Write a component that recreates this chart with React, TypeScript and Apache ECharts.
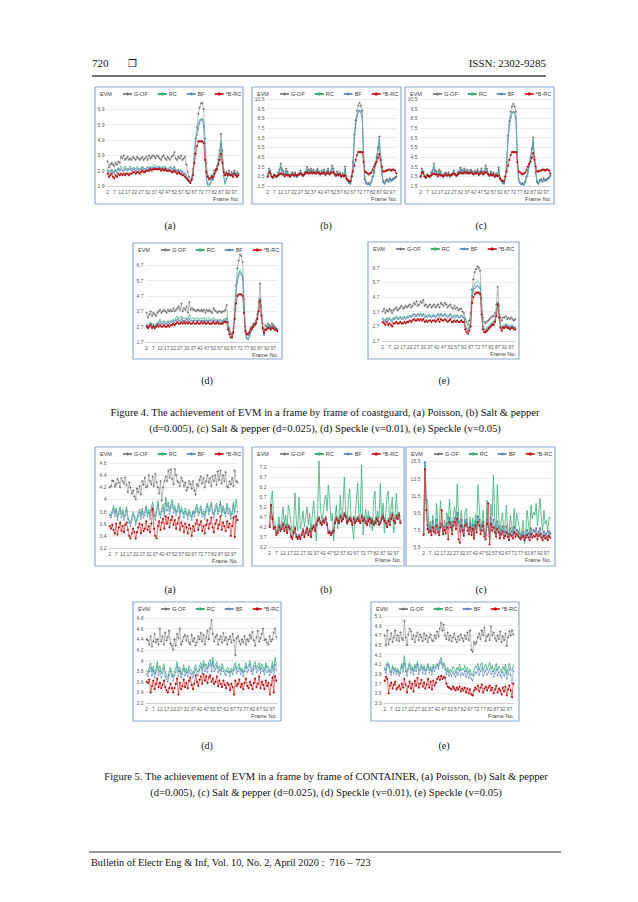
import React, { useEffect, useRef } from "react";
import * as echarts from "echarts";

// ---------- categories / names ----------
const FRAMES = Array.from({ length: 99 }, (_, i) => String(i + 2));
const SERIES_NAMES = ["G-OF", "RC", "BF", "*B-RC"];

// ---------- tick labels ----------
const t4a = [1.9, 2.9, 3.9, 4.9, 5.9, 6.9];
const t4b = [1.5, 2.5, 3.5, 4.5, 5.5, 6.5, 7.5, 8.5, 9.5, 10.5];
const t4d = [1.7, 2.7, 3.7, 4.7, 5.7, 6.7];
const t5a = [3.2, 3.4, 3.6, 3.8, 4, 4.2, 4.4, 4.6];
const t5b = [3.2, 3.7, 4.2, 4.7, 5.2, 5.7, 6.2, 6.7, 7.2];
const t5c = [5.5, 7.5, 9.5, 11.5, 13.5, 15.5];
const t5d = [3.2, 3.4, 3.6, 3.8, 4, 4.2, 4.4, 4.6, 4.8];
const t5e = [3.3, 3.5, 3.7, 3.9, 4.1, 4.3, 4.5, 4.7, 4.9, 5.1];

// ---------- Figure 4 (coastguard) ----------
const f4a_gof = [3.5,3.1,3.3,3.4,3.3,3.2,3.4,3.3,3.5,3.4, 3.8,3.7,3.9,3.6,3.7,3.8,3.6,3.7,3.6,3.8, 3.7,3.6,3.8,3.7,3.6,3.7,3.8,3.6,3.7,3.8, 3.6,3.9,3.7,3.8,3.9,3.8,3.7,3.9,3.8,3.7, 3.6,3.8,3.9,3.7,3.6,3.8,3.7,3.6,3.8,3.9, 4.1,3.7,3.6,3.8,3.7,3.9,3.6,3.7,3.8,3.3, 2.8,2.5,2.2,2.4,3.0,4.0,5.0,5.7,6.6,7.0, 7.3,7.3,6.9,5.0,3.4,2.6,2.3,2.4,2.6,2.4, 2.9,3.0,3.2,3.6,4.2,5.3,4.2,3.0,2.6,2.8, 2.7,2.9,2.6,2.8,2.7,2.9,2.6,2.8,2.7];
const f4a_rc = [3.0,2.8,2.9,3.0,2.9,2.8,3.0,2.9,3.1,3.0, 3.2,3.1,3.0,3.2,3.1,3.0,3.1,3.2,3.0,3.1, 3.1,3.0,3.2,3.1,3.0,3.1,3.2,3.1,3.0,3.1, 3.2,3.1,3.2,3.1,3.2,3.3,3.2,3.1,3.2,3.2, 3.1,3.2,3.1,3.2,3.1,3.0,3.1,3.2,3.1,3.0, 3.2,3.0,2.9,3.0,2.9,2.9,2.8,2.8,2.7,2.6, 2.4,2.2,2.1,2.3,2.8,3.6,5.0,5.4,5.9,6.2, 6.3,6.3,6.0,4.2,2.4,1.9,1.85,2.0,2.2,2.3, 2.6,2.8,3.0,3.5,4.0,4.8,3.6,2.5,2.0,2.3, 2.5,2.7,2.6,2.7,2.6,2.8,2.7,2.6,2.7];
const f4a_bf = [2.9,2.7,2.8,2.9,2.8,2.7,2.9,2.8,3.0,2.9, 3.0,2.9,2.9,3.0,3.0,2.9,3.0,3.0,2.9,3.0, 3.0,2.9,3.0,3.0,2.9,3.0,3.1,3.0,2.9,3.0, 3.1,3.0,3.1,3.0,3.1,3.1,3.1,3.0,3.1,3.1, 3.0,3.1,3.0,3.1,3.0,2.9,3.0,3.1,3.0,2.9, 3.1,2.9,2.9,2.9,2.8,2.9,2.8,2.7,2.7,2.6, 2.4,2.2,2.1,2.3,2.8,3.7,4.8,5.2,5.6,6.0, 6.2,6.2,5.8,4.1,2.5,2.1,2.0,2.1,2.3,2.3, 2.6,2.8,3.0,3.4,3.9,4.6,3.5,2.6,2.2,2.4, 2.6,2.7,2.6,2.7,2.6,2.8,2.7,2.6,2.7];
const f4a_brc = [2.7,2.5,2.6,2.7,2.5,2.4,2.6,2.5,2.7,2.6, 2.7,2.6,2.7,2.6,2.7,2.7,2.6,2.7,2.7,2.8, 2.8,2.7,2.8,2.8,2.7,2.8,2.9,2.8,2.8,2.9, 2.9,2.9,3.0,2.9,3.0,3.0,3.0,3.0,3.0,3.0, 2.9,3.0,2.9,3.0,2.9,2.9,2.9,2.9,2.8,2.8, 2.9,2.8,2.7,2.8,2.7,2.7,2.6,2.6,2.5,2.4, 2.3,2.2,2.1,2.3,2.6,3.4,4.0,4.5,4.8,4.8, 4.8,4.8,4.7,3.6,2.8,2.5,2.4,2.4,2.5,2.5, 2.7,2.9,3.0,3.3,3.6,4.0,3.4,2.8,2.6,2.7, 2.6,2.7,2.6,2.6,2.5,2.7,2.6,2.5,2.6];

const f4b_gof = [2.5,3.3,3.1,2.5,2.4,2.7,2.6,2.5,2.9,3.2, 3.8,3.2,3.0,2.6,3.3,3.0,2.7,2.5,2.8,2.9, 2.6,2.9,2.5,2.7,2.8,3.1,2.7,2.6,2.9,3.0, 3.5,3.2,3.1,3.3,3.0,3.2,2.9,3.1,3.3,3.0, 2.8,3.1,2.9,3.2,2.7,3.0,3.3,2.8,3.0,3.6, 3.3,2.8,2.6,3.0,2.7,2.9,2.5,2.8,2.6,3.5, 2.3,2.1,1.9,1.8,2.5,4.0,6.8,8.3,9.3,9.8, 10.1,9.8,9.3,5.0,2.3,1.9,1.7,1.8,1.7,2.0, 2.5,3.0,3.8,4.5,5.5,6.6,4.5,3.0,2.0,1.8, 2.1,2.2,2.0,2.3,2.1,2.2,2.3,2.4,2.5];
const f4b_rc = [2.4,3.1,3.0,2.4,2.3,2.6,2.5,2.4,2.8,3.0, 3.6,3.1,2.9,2.5,3.1,2.9,2.6,2.4,2.7,2.8, 2.5,2.8,2.4,2.6,2.7,3.0,2.6,2.5,2.8,2.9, 3.3,3.1,3.0,3.2,2.9,3.1,2.8,3.0,3.2,2.9, 2.7,3.0,2.8,3.1,2.6,2.9,3.2,2.7,2.9,3.4, 3.2,2.7,2.5,2.9,2.6,2.8,2.4,2.7,2.5,3.3, 2.2,2.0,1.8,1.7,2.4,3.7,6.3,7.8,8.6,9.1, 9.2,9.1,8.6,4.6,2.1,1.8,1.7,1.7,1.6,1.9, 2.4,2.8,3.6,4.3,5.2,6.2,4.2,2.8,1.9,1.7, 2.0,2.1,1.9,2.2,2.0,2.1,2.2,2.3,2.4];
const f4b_bf = [2.4,3.0,2.9,2.4,2.3,2.6,2.5,2.4,2.7,2.9, 3.4,3.0,2.8,2.5,3.0,2.8,2.6,2.4,2.7,2.8, 2.5,2.7,2.4,2.6,2.7,2.9,2.6,2.5,2.7,2.8, 3.2,3.0,2.9,3.1,2.9,3.0,2.8,2.9,3.1,2.9, 2.7,2.9,2.8,3.0,2.6,2.8,3.1,2.7,2.8,3.3, 3.1,2.7,2.5,2.8,2.6,2.7,2.4,2.6,2.5,3.2, 2.2,2.0,1.8,1.7,2.4,3.8,6.4,7.9,8.7,9.2, 9.3,9.2,8.7,4.7,2.1,1.8,1.7,1.7,1.6,1.9, 2.4,2.8,3.6,4.3,5.3,6.3,4.3,2.8,1.9,1.7, 2.0,2.1,1.9,2.2,2.0,2.1,2.2,2.3,2.4];
const f4b_brc = [2.5,2.9,2.8,2.5,2.4,2.6,2.5,2.5,2.6,2.7, 2.8,2.7,2.7,2.5,2.7,2.6,2.6,2.5,2.6,2.7, 2.6,2.7,2.6,2.6,2.7,2.8,2.7,2.6,2.7,2.8, 2.9,2.8,2.8,2.9,2.8,2.9,2.8,2.8,2.9,2.8, 2.7,2.8,2.8,2.9,2.7,2.8,2.9,2.7,2.8,2.9, 2.9,2.7,2.6,2.7,2.6,2.7,2.5,2.6,2.5,2.6, 2.3,2.1,2.0,2.0,2.5,3.0,3.6,4.2,4.7,5.0, 5.0,5.0,5.0,4.0,3.0,2.9,2.8,2.7,2.8,2.9, 3.2,3.5,3.8,4.0,4.4,4.8,4.2,3.5,3.0,3.0, 3.1,3.1,3.2,3.2,3.1,3.2,3.2,3.1,2.8];

const f4c_gof = [2.5,3.3,3.0,2.5,2.4,2.7,2.6,2.5,2.9,3.1, 3.8,3.1,3.0,2.6,3.2,3.0,2.7,2.5,2.8,2.9, 2.6,2.9,2.5,2.7,2.8,3.1,2.7,2.6,2.9,3.0, 3.4,3.2,3.1,3.3,3.0,3.2,2.9,3.1,3.2,3.0, 2.8,3.1,2.9,3.2,2.7,3.0,3.3,2.8,3.0,3.6, 3.3,2.8,2.6,3.0,2.7,2.9,2.5,2.8,2.6,3.4, 2.3,2.1,1.9,1.8,2.5,4.0,6.7,8.2,9.2,9.7, 10.0,9.7,9.2,5.0,2.3,1.9,1.7,1.8,1.7,2.0, 2.5,3.0,3.8,4.5,5.4,6.5,4.5,3.0,2.0,1.8, 2.1,2.2,2.0,2.3,2.1,2.2,2.3,2.4,2.6];
const f4c_rc = [2.4,3.1,2.9,2.4,2.3,2.6,2.5,2.4,2.8,3.0, 3.5,3.0,2.9,2.5,3.1,2.9,2.6,2.4,2.7,2.8, 2.5,2.8,2.4,2.6,2.7,3.0,2.6,2.5,2.8,2.9, 3.3,3.1,3.0,3.2,2.9,3.1,2.8,3.0,3.1,2.9, 2.7,3.0,2.8,3.1,2.6,2.9,3.2,2.7,2.9,3.4, 3.2,2.7,2.5,2.9,2.6,2.8,2.4,2.7,2.5,3.3, 2.2,2.0,1.8,1.7,2.4,3.7,6.2,7.7,8.5,9.0, 9.1,9.0,8.5,4.6,2.1,1.8,1.7,1.7,1.6,1.9, 2.4,2.8,3.6,4.3,5.2,6.1,4.2,2.8,1.9,1.7, 2.0,2.1,1.9,2.2,2.0,2.1,2.2,2.3,2.5];
const f4c_bf = [2.4,3.0,2.9,2.4,2.3,2.6,2.5,2.4,2.7,2.9, 3.4,3.0,2.8,2.5,3.0,2.8,2.6,2.4,2.7,2.8, 2.5,2.7,2.4,2.6,2.7,2.9,2.6,2.5,2.7,2.8, 3.2,3.0,2.9,3.1,2.9,3.0,2.8,2.9,3.1,2.9, 2.7,2.9,2.8,3.0,2.6,2.8,3.1,2.7,2.8,3.3, 3.1,2.7,2.5,2.8,2.6,2.7,2.4,2.6,2.5,3.2, 2.2,2.0,1.8,1.7,2.4,3.8,6.3,7.8,8.6,9.1, 9.2,9.1,8.6,4.7,2.1,1.8,1.7,1.7,1.6,1.9, 2.4,2.8,3.6,4.3,5.3,6.2,4.3,2.8,1.9,1.7, 2.0,2.1,1.9,2.2,2.0,2.1,2.2,2.3,2.5];
const f4c_brc = [2.5,2.9,2.8,2.5,2.4,2.6,2.5,2.5,2.6,2.7, 2.8,2.7,2.7,2.5,2.7,2.6,2.6,2.5,2.6,2.7, 2.6,2.7,2.6,2.6,2.7,2.8,2.7,2.6,2.7,2.8, 2.9,2.8,2.8,2.9,2.8,2.9,2.8,2.8,2.9,2.8, 2.7,2.8,2.8,2.9,2.7,2.8,2.9,2.7,2.8,2.9, 2.9,2.7,2.6,2.7,2.6,2.7,2.5,2.6,2.5,2.6, 2.3,2.1,2.0,2.0,2.5,3.0,3.6,4.2,4.7,5.0, 5.0,5.0,5.0,4.0,3.0,2.9,2.8,2.7,2.8,2.9, 3.2,3.5,3.8,4.0,4.4,4.9,4.2,3.5,3.0,3.0, 3.1,3.1,3.2,3.2,3.1,3.2,3.2,3.1,2.8];

const f4d_gof = [3.6,3.3,3.5,3.7,3.4,3.6,3.5,3.4,3.6,3.7, 3.8,3.6,3.7,3.8,3.7,3.6,3.8,3.7,3.8,3.7, 3.9,3.7,3.8,3.9,4.0,3.8,4.2,3.7,3.9,3.8, 4.0,3.6,4.3,3.8,3.9,3.8,3.8,3.7,3.8,3.8, 3.7,3.8,3.7,3.8,3.6,3.8,3.7,3.8,3.7,3.6, 3.9,3.8,3.7,3.6,3.7,3.7,3.6,3.7,3.7,3.8, 4.1,3.0,2.6,2.3,2.2,2.6,3.8,5.4,6.5,7.0, 7.4,7.3,6.9,4.5,2.7,2.3,2.2,2.4,2.6,2.7, 2.9,2.9,3.1,3.5,4.3,5.5,4.0,2.9,2.4,2.8, 2.7,2.9,2.8,2.7,2.9,2.8,2.7,2.6,2.5];
const f4d_rc = [2.9,2.8,2.9,3.0,2.8,2.9,2.8,2.9,3.0,3.0, 3.2,3.0,3.0,3.1,3.0,3.0,3.1,3.0,3.1,3.1, 3.2,3.1,3.3,3.4,3.2,3.3,3.4,3.2,3.3,3.2, 3.3,3.2,3.5,3.3,3.2,3.3,3.2,3.2,3.3,3.2, 3.2,3.3,3.2,3.3,3.1,3.2,3.3,3.2,3.2,3.1, 3.3,3.2,3.1,3.2,3.1,3.2,3.1,3.1,3.2,3.2, 3.3,2.7,2.5,2.2,2.1,2.4,3.5,5.0,5.8,6.2, 6.4,6.3,6.0,4.0,2.3,1.9,1.8,2.0,2.3,2.5, 2.8,2.8,3.0,3.3,3.9,4.6,3.6,2.6,2.1,2.5, 2.6,2.8,2.7,2.6,2.8,2.7,2.6,2.6,2.5];
const f4d_bf = [2.8,2.7,2.8,2.9,2.7,2.8,2.7,2.8,2.9,2.9, 3.0,2.9,2.9,3.0,2.9,2.9,3.0,2.9,3.0,3.0, 3.1,3.0,3.1,3.2,3.1,3.1,3.2,3.1,3.1,3.1, 3.2,3.1,3.2,3.1,3.1,3.1,3.1,3.1,3.1,3.1, 3.1,3.1,3.1,3.1,3.0,3.1,3.1,3.1,3.1,3.0, 3.1,3.1,3.0,3.1,3.0,3.1,3.0,3.0,3.1,3.1, 3.2,2.7,2.4,2.2,2.1,2.4,3.4,4.8,5.6,6.0, 6.2,6.1,5.8,3.9,2.4,2.0,1.9,2.1,2.4,2.5, 2.8,2.8,3.0,3.3,3.8,4.5,3.5,2.6,2.2,2.5, 2.6,2.7,2.6,2.6,2.7,2.7,2.6,2.6,2.5];
const f4d_brc = [2.7,2.6,2.7,2.8,2.6,2.7,2.6,2.7,2.8,2.7, 2.8,2.7,2.7,2.8,2.7,2.7,2.8,2.7,2.8,2.8, 2.9,2.8,2.9,3.0,2.9,2.9,3.0,2.9,3.0,2.9, 3.0,2.9,3.0,2.9,2.9,3.0,2.9,2.9,3.0,2.9, 2.9,3.0,2.9,3.0,2.9,2.9,3.0,2.9,2.9,2.9, 3.0,2.9,2.9,3.0,2.9,2.9,2.9,2.9,3.0,3.0, 3.0,2.5,2.2,2.0,2.0,2.3,3.2,4.2,4.7,4.8, 4.8,4.8,4.7,3.6,2.4,2.2,2.2,2.3,2.5,2.6, 2.7,2.8,2.9,3.2,3.7,4.4,3.4,2.6,2.3,2.5, 2.5,2.6,2.6,2.5,2.6,2.6,2.5,2.5,2.4];

const f4e_gof = [3.7,3.9,3.6,3.8,3.7,3.9,3.8,3.6,3.8,3.9, 4.0,3.8,3.9,4.0,4.1,3.9,4.0,4.1,4.0,4.1, 4.2,4.0,4.1,4.3,4.2,4.4,4.1,4.2,4.4,4.3, 4.5,4.1,4.2,4.0,4.1,4.2,4.0,4.1,4.2,4.0, 4.1,4.2,4.0,4.3,4.2,4.1,4.3,4.2,4.0,4.1, 4.2,4.0,3.9,4.1,3.9,4.0,3.8,3.9,3.9,3.7, 3.6,3.2,3.0,2.8,3.1,3.6,5.2,5.9,6.4,6.6, 6.8,6.7,6.5,4.6,3.3,3.0,2.9,3.0,3.1,3.2, 3.3,3.4,3.4,3.6,4.2,5.4,4.1,3.3,3.1,3.3, 3.3,3.4,3.2,3.3,3.2,3.3,3.2,3.1,3.2];
const f4e_rc = [3.3,3.2,3.1,3.3,3.2,3.3,3.2,3.1,3.3,3.3, 3.4,3.3,3.3,3.4,3.3,3.3,3.4,3.3,3.4,3.4, 3.5,3.4,3.5,3.6,3.5,3.5,3.6,3.5,3.6,3.5, 3.6,3.4,3.5,3.4,3.5,3.5,3.4,3.5,3.5,3.4, 3.5,3.6,3.4,3.6,3.5,3.5,3.6,3.5,3.4,3.5, 3.6,3.4,3.4,3.5,3.4,3.5,3.4,3.4,3.5,3.4, 3.4,2.8,2.6,2.5,2.7,3.0,4.9,5.3,5.6,5.7, 5.8,5.7,5.6,4.0,2.8,2.6,2.5,2.6,2.7,2.8, 2.9,3.0,3.0,3.2,3.7,4.4,3.6,2.8,2.6,2.8, 2.8,2.9,2.8,2.8,2.7,2.8,2.8,2.7,2.7];
const f4e_bf = [3.2,3.1,3.0,3.2,3.1,3.2,3.1,3.0,3.2,3.2, 3.3,3.2,3.2,3.3,3.2,3.2,3.3,3.2,3.3,3.3, 3.4,3.3,3.4,3.5,3.4,3.4,3.5,3.4,3.5,3.4, 3.5,3.3,3.4,3.3,3.4,3.4,3.3,3.4,3.4,3.3, 3.4,3.5,3.3,3.5,3.4,3.4,3.5,3.4,3.3,3.4, 3.5,3.3,3.3,3.4,3.3,3.4,3.3,3.3,3.4,3.3, 3.3,2.7,2.5,2.4,2.6,2.9,4.8,5.1,5.3,5.4, 5.5,5.4,5.3,3.8,2.7,2.5,2.4,2.5,2.6,2.7, 2.8,2.9,2.9,3.1,3.6,4.3,3.5,2.7,2.5,2.7, 2.7,2.8,2.7,2.7,2.6,2.7,2.7,2.6,2.6];
const f4e_brc = [3.0,2.9,2.8,3.0,2.8,2.9,2.8,2.7,2.9,2.9, 3.0,2.9,2.9,3.0,2.9,2.9,3.0,2.9,3.0,3.0, 3.1,3.0,3.1,3.2,3.1,3.1,3.2,3.1,3.2,3.1, 3.2,3.0,3.1,3.0,3.1,3.1,3.0,3.1,3.1,3.0, 3.1,3.2,3.0,3.2,3.1,3.1,3.2,3.1,3.0,3.1, 3.2,3.0,3.0,3.1,3.0,3.1,3.0,3.0,3.1,3.0, 3.0,2.5,2.3,2.2,2.4,2.7,4.3,4.7,4.9,5.0, 5.0,5.0,4.9,3.5,2.5,2.3,2.3,2.4,2.5,2.6, 2.7,2.8,2.8,3.0,3.4,4.2,3.3,2.6,2.4,2.6, 2.6,2.7,2.6,2.6,2.5,2.6,2.6,2.5,2.5];

// ---------- Figure 5 (CONTAINER) ----------
const f5a_gof = [4.20,4.22,4.31,4.30,4.21,4.25,4.34,4.28,4.20,4.35, 4.30,4.26,4.36,4.24,4.12,4.28,4.20,4.10,4.15,4.05, 4.00,4.18,4.12,4.22,4.08,4.30,4.24,4.36,4.20,4.22, 4.40,4.30,4.25,4.38,4.22,4.42,4.28,4.20,4.10,4.30, 3.98,4.20,4.30,4.38,4.30,4.48,4.36,4.50,4.34,4.25, 4.50,4.40,4.30,4.28,4.22,4.36,4.30,4.22,4.28,4.15, 4.20,4.30,4.25,4.18,4.30,4.15,4.08,4.25,4.22,4.32, 4.38,4.26,4.35,4.20,4.30,4.40,4.28,4.35,4.22,4.38, 4.30,4.40,4.24,4.46,4.32,4.48,4.26,4.40,4.30,4.45, 4.22,4.20,4.30,4.25,4.35,4.22,4.48,4.30,4.28];
const f5a_rc = [3.78,3.72,3.82,3.90,3.76,3.86,3.70,3.80,3.88,3.74, 3.84,3.70,3.78,3.88,3.72,3.66,3.60,3.72,3.80,3.74, 3.62,3.70,3.78,3.84,3.72,3.86,3.74,3.80,3.90,3.76, 3.84,3.72,3.88,3.96,3.78,3.70,3.82,3.98,3.80,3.74, 3.86,3.92,3.76,4.04,3.88,3.96,3.80,3.92,4.00,3.84, 3.90,3.78,3.86,3.94,3.76,3.88,3.82,3.74,3.86,3.80, 3.72,3.84,3.78,3.70,3.82,3.76,3.86,3.92,3.78,3.84, 3.90,3.76,3.82,3.72,3.86,3.94,3.80,3.88,3.96,3.82, 3.74,3.88,3.94,3.80,3.86,3.98,3.78,3.90,3.84,3.76, 3.94,3.82,3.86,3.72,3.80,3.96,3.78,4.00,3.86];
const f5a_bf = [3.74,3.70,3.78,3.84,3.72,3.80,3.66,3.76,3.82,3.70, 3.78,3.66,3.74,3.82,3.68,3.62,3.56,3.66,3.74,3.70, 3.58,3.66,3.72,3.78,3.68,3.80,3.70,3.74,3.84,3.72, 3.78,3.68,3.82,3.88,3.74,3.66,3.78,3.90,3.76,3.70, 3.80,3.86,3.72,3.94,3.82,3.88,3.76,3.86,3.92,3.78, 3.84,3.74,3.80,3.88,3.72,3.82,3.78,3.70,3.80,3.76, 3.68,3.78,3.74,3.66,3.78,3.72,3.80,3.86,3.74,3.78, 3.84,3.72,3.76,3.68,3.80,3.88,3.76,3.82,3.90,3.78, 3.70,3.82,3.88,3.76,3.80,3.92,3.74,3.84,3.78,3.72, 3.86,3.76,3.80,3.68,3.76,3.90,3.72,3.62,3.80];
const f5a_brc = [3.56,3.52,3.58,3.50,3.44,3.60,3.42,3.54,3.62,3.48, 3.56,3.46,3.58,3.62,3.50,3.40,3.36,3.44,3.52,3.46, 3.36,3.46,3.54,3.60,3.44,3.58,3.48,3.52,3.64,3.50, 3.56,3.46,3.60,3.84,3.52,3.40,3.36,3.56,3.64,3.50, 3.62,3.68,3.52,3.72,3.60,3.70,3.54,3.66,3.72,3.58, 3.66,3.52,3.60,3.70,3.50,3.62,3.56,3.46,3.60,3.54, 3.44,3.58,3.52,3.40,3.56,3.48,3.60,3.66,3.50,3.58, 3.64,3.48,3.56,3.44,3.58,3.66,3.52,3.60,3.70,3.54, 3.46,3.60,3.66,3.52,3.58,3.72,3.50,3.62,3.56,3.48, 3.64,3.54,3.60,3.40,3.56,3.70,3.38,3.72,3.66];

const f5b_gof = [4.3,5.2,4.7,4.2,4.2,3.9,4.0,4.3,4.1,4.2, 4.4,4.1,4.3,4.0,4.3,4.2,3.8,3.7,4.0,4.2, 3.8,3.7,3.8,3.7,3.9,4.1,3.8,4.0,4.2,3.9, 4.1,3.8,4.2,4.3,4.1,4.4,4.6,4.7,4.5,4.4, 4.6,4.5,4.7,4.4,4.0,4.0,3.9,4.0,4.1,4.5, 4.7,4.6,4.5,4.8,4.6,4.7,4.9,4.8,4.5,4.6, 4.7,4.6,4.4,4.7,4.5,4.6,4.7,4.6,4.5,4.8, 4.6,4.7,4.5,4.4,4.6,4.7,4.5,4.6,4.4,4.5, 4.7,4.6,4.4,4.5,4.7,4.8,4.6,4.5,4.3,4.6, 4.4,4.7,4.9,4.6,4.5,4.8,4.7,4.9,4.5];
const f5b_rc = [4.6,5.5,6.0,4.5,4.4,3.9,4.2,4.7,4.1,4.5, 5.2,4.3,4.8,4.0,5.3,5.0,4.4,3.9,4.3,5.9, 4.5,4.0,5.7,4.1,4.4,5.0,4.2,4.7,5.2,4.3, 4.9,3.9,4.8,5.5,4.6,3.5,5.0,7.5,5.2,4.6, 4.8,5.5,5.8,5.0,6.3,5.6,4.5,4.9,3.5,4.6, 5.3,4.1,4.7,5.8,4.4,5.2,6.7,4.9,4.3,5.6, 6.1,4.8,4.2,3.6,4.7,5.5,6.4,4.6,4.9,7.3, 3.8,4.5,5.1,4.4,5.0,4.2,4.7,4.0,5.6,6.0, 4.3,5.0,4.6,6.4,4.5,5.4,3.9,4.8,5.8,6.0, 4.4,5.1,5.7,3.9,4.8,5.9,4.6,4.9,4.7];
const f5b_bf = [4.2,5.3,4.6,4.2,4.2,3.9,3.9,4.2,4.0,4.2, 4.3,4.0,4.2,3.9,4.2,4.1,3.8,3.7,3.9,4.1, 3.7,3.6,3.8,3.7,3.8,4.0,3.8,3.9,4.1,3.8, 4.0,3.8,4.1,4.2,4.0,4.3,4.5,4.6,4.4,4.3, 4.5,4.4,4.6,4.3,3.9,4.0,3.8,3.9,4.0,4.4, 4.6,4.5,4.4,4.7,4.5,4.6,4.8,4.7,4.4,4.5, 4.6,4.5,4.3,4.6,4.4,4.5,4.6,4.5,4.4,4.7, 4.5,4.6,4.4,4.3,4.5,4.6,4.4,4.5,4.3,4.4, 4.6,4.5,4.3,4.4,4.6,4.7,4.5,4.4,4.2,4.5, 4.3,4.6,4.8,4.5,4.4,4.7,4.6,4.8,4.4];
const f5b_brc = [4.2,5.3,4.6,4.1,4.2,3.8,3.9,4.2,4.0,4.1, 4.3,4.0,4.2,3.9,4.2,4.1,3.7,3.6,3.9,4.1, 3.7,3.6,3.7,3.6,3.8,4.0,3.7,3.9,4.1,3.8, 4.0,3.7,4.1,4.2,4.0,4.3,4.5,4.6,4.4,4.3, 4.5,4.4,4.6,4.3,3.9,3.9,3.8,3.9,4.0,4.4, 4.6,4.5,4.4,4.7,4.5,4.6,4.8,4.7,4.4,4.5, 4.6,4.5,4.3,4.6,4.4,4.5,4.6,4.5,4.4,4.7, 4.5,4.6,4.4,4.3,4.5,4.6,4.4,4.5,4.3,4.4, 4.6,4.5,4.3,4.4,4.6,4.7,4.5,4.4,4.2,4.5, 4.3,4.6,4.8,4.5,4.4,4.7,4.6,4.8,4.4];

const f5c_gof = [7.1,15.4,11.0,8.1,7.6,7.9,7.3,8.5,7.7,7.5, 8.7,7.7,7.3,8.3,8.1,7.3,7.9,7.5,8.3,7.7, 8.9,8.3,7.5,8.5,8.9,8.1,9.5,8.5,7.3,8.7, 7.9,7.1,8.5,8.7,7.9,7.5,8.3,7.3,8.1,6.9, 8.5,7.7,9.1,8.7,7.5,7.9,8.5,7.1,6.9,8.7, 7.9,6.7,8.9,7.9,8.7,7.7,7.1,8.5,7.9,6.9, 7.5,7.9,6.9,7.3,7.9,7.1,6.7,7.7,7.3,7.0, 7.9,7.1,7.5,7.3,7.1,6.7,7.0,7.3,6.7,7.0, 7.5,7.1,6.7,7.7,7.1,7.5,7.3,7.7,6.9,7.3, 7.7,7.1,6.7,7.3,6.9,7.1,6.7,7.3,7.1];
const f5c_rc = [7.2,15.3,10.8,11.0,7.8,8.5,7.4,9.2,8.0,7.6, 10.6,8.2,7.4,10.9,9.0,7.3,8.6,7.8,9.5,8.1, 11.1,8.8,7.6,9.4,10.2,8.4,12.9,9.0,7.3,9.8, 8.2,7.0,9.6,10.0,8.1,7.6,9.0,7.3,8.9,6.4, 9.3,8.0,12.8,10.2,7.6,8.4,9.8,7.2,6.8,11.0, 8.2,6.2,10.5,9.0,13.9,8.8,7.4,12.8,9.6,7.0, 8.6,9.5,7.3,8.2,10.4,7.4,6.8,9.2,8.0,7.3, 10.0,7.6,9.4,8.6,7.8,6.6,7.5,8.6,5.9,7.4, 9.8,8.4,7.0,10.4,8.8,9.6,9.2,10.6,8.0,9.4, 11.2,9.0,7.4,9.8,8.2,8.6,7.2,9.0,8.8];
const f5c_bf = [7.0,15.4,10.6,8.0,7.5,7.8,7.2,8.4,7.6,7.4, 8.6,7.6,7.2,8.2,8.0,7.2,7.8,7.4,8.2,7.6, 8.8,8.2,7.4,8.4,8.8,8.0,9.4,8.4,7.2,8.6, 7.8,7.0,8.4,8.6,7.8,7.4,8.2,7.2,8.0,6.8, 8.4,7.6,9.0,8.6,7.4,7.8,8.4,7.0,6.8,8.6, 7.8,6.6,8.8,7.8,8.6,7.6,7.0,8.4,7.8,6.8, 7.4,7.8,6.8,7.2,7.8,7.0,6.6,7.6,7.2,6.9, 7.8,7.0,7.4,7.2,7.0,6.6,6.9,7.2,6.6,6.9, 7.4,7.0,6.6,7.6,7.0,7.4,7.2,7.6,6.8,7.2, 7.6,7.0,6.6,7.2,6.8,7.0,6.6,7.2,7.0];
const f5c_brc = [6.9,14.6,9.8,7.6,7.2,7.4,6.9,7.8,7.3,7.1, 8.0,7.2,6.9,7.8,9.8,7.0,7.5,7.1,7.8,6.4, 8.4,7.8,7.0,8.0,8.4,7.6,8.8,6.4,6.0,8.0, 7.4,6.8,8.0,8.2,7.4,7.0,7.8,6.9,7.6,6.5, 8.0,7.2,8.4,8.0,7.0,7.4,8.0,6.7,6.4,8.2, 10.6,5.8,8.2,7.4,7.8,7.2,6.7,7.6,7.2,6.5, 7.0,7.3,6.5,6.8,7.2,6.7,6.3,7.0,6.8,6.5, 7.2,6.7,7.0,6.8,6.6,6.4,6.6,6.8,6.3,6.6, 6.9,6.6,6.3,7.0,6.6,6.8,6.7,7.0,6.4,6.8, 7.0,6.6,6.3,6.8,6.5,6.6,6.3,6.8,6.6];

const f5d_gof = [4.40,4.38,4.30,4.46,4.26,4.36,4.50,4.34,4.40,4.30, 4.60,4.36,4.46,4.30,4.52,4.38,4.44,4.56,4.32,4.28, 4.20,4.40,4.28,4.50,4.42,4.60,4.30,4.36,4.44,4.48, 4.38,4.46,4.34,4.30,4.48,4.36,4.42,4.28,4.34,4.46, 4.40,4.52,4.36,4.48,4.30,4.44,4.56,4.40,4.60,4.76, 4.50,4.36,4.44,4.48,4.30,4.40,4.46,4.34,4.52,4.38, 4.44,4.30,4.40,4.46,4.34,4.50,4.38,4.10,4.42,4.46, 4.36,4.30,4.40,4.34,4.46,4.30,4.40,4.36,4.48,4.42, 4.54,4.38,4.28,4.44,4.56,4.36,4.42,4.50,4.60,4.38, 4.40,4.34,4.30,4.46,4.36,4.40,4.52,4.60,4.44];
const f5d_rc = [3.82,3.76,3.88,3.96,3.78,3.90,3.74,3.84,3.98,3.80, 3.90,3.76,3.84,3.94,3.78,3.70,3.66,3.80,3.88,3.76, 3.68,3.80,3.86,3.98,3.78,3.88,3.74,3.82,3.92,3.78, 3.86,3.76,3.90,3.84,3.80,3.74,3.86,3.92,3.80,3.78, 3.90,3.96,3.82,4.00,3.88,3.94,3.84,3.98,4.02,3.88, 4.06,3.86,3.92,3.98,3.84,3.90,3.80,3.94,3.86,3.82, 3.78,3.88,3.84,3.76,3.86,3.80,3.90,3.96,3.82,3.88, 3.94,3.80,3.86,3.76,3.88,3.96,3.84,3.90,4.00,3.86, 3.80,3.92,3.98,3.84,3.90,3.96,3.82,3.94,3.88,3.80, 3.96,3.86,3.90,3.78,3.84,3.98,3.80,4.06,3.90];
const f5d_bf = [3.74,3.70,3.80,3.86,3.72,3.82,3.68,3.76,3.88,3.72, 3.80,3.68,3.76,3.84,3.70,3.64,3.60,3.72,3.80,3.70, 3.62,3.72,3.78,3.88,3.70,3.80,3.68,3.74,3.84,3.72, 3.78,3.70,3.82,3.76,3.74,3.68,3.78,3.84,3.74,3.72, 3.82,3.88,3.76,3.92,3.80,3.86,3.78,3.90,3.94,3.80, 3.96,3.80,3.84,3.90,3.78,3.82,3.74,3.86,3.80,3.76, 3.72,3.80,3.78,3.70,3.80,3.74,3.82,3.88,3.76,3.80, 3.86,3.74,3.80,3.70,3.80,3.88,3.78,3.82,3.92,3.80, 3.74,3.84,3.90,3.78,3.82,3.88,3.76,3.86,3.80,3.74, 3.88,3.78,3.82,3.72,3.78,3.90,3.62,3.92,3.82];
const f5d_brc = [3.60,3.58,3.64,3.40,3.52,3.62,3.46,3.56,3.66,3.50, 3.58,3.48,3.54,3.62,3.50,3.44,3.40,3.48,3.56,3.48, 3.40,3.48,3.56,3.66,3.36,3.58,3.46,3.52,3.64,3.50, 3.58,3.48,3.62,3.68,3.54,3.46,3.56,3.72,3.60,3.52, 3.64,3.70,3.56,3.74,3.62,3.70,3.58,3.68,3.72,3.60, 3.66,3.56,3.60,3.70,3.52,3.62,3.56,3.50,3.62,3.54, 3.48,3.58,3.54,3.44,3.56,3.50,3.36,3.62,3.52,3.56, 3.64,3.50,3.56,3.46,3.58,3.66,3.52,3.48,3.60,3.54, 3.46,3.58,3.66,3.50,3.56,3.70,3.48,3.60,3.54,3.46, 3.62,3.52,3.58,3.36,3.54,3.68,3.40,3.70,3.62];

const f5e_gof = [4.70,4.50,4.80,4.52,4.62,4.74,4.56,4.66,4.80,4.60, 4.70,4.58,4.76,4.64,4.60,5.00,4.66,4.50,4.72,4.84, 4.78,4.62,4.70,4.56,4.68,4.76,4.60,4.72,4.66,4.58, 4.74,4.62,4.70,4.56,4.66,4.72,4.60,4.58,4.70,4.64, 4.78,4.68,4.84,4.96,4.80,4.92,4.70,4.62,4.76,4.60, 4.70,4.58,4.66,4.74,4.62,4.56,4.68,4.60,4.72,4.64, 4.58,4.70,4.62,4.76,4.60,4.80,4.40,4.36,4.56,4.52, 4.56,4.66,4.74,4.62,4.80,4.70,4.86,4.58,4.68,4.72, 4.60,4.88,4.70,4.76,4.64,4.58,4.70,4.62,4.78,4.56, 4.68,4.60,4.74,4.48,4.66,4.78,4.70,4.80,4.72];
const f5e_rc = [4.06,3.96,4.14,4.12,4.00,3.92,4.08,3.98,4.04,3.94, 4.02,3.90,3.98,4.12,4.00,4.28,4.02,3.92,4.06,4.14, 3.98,4.06,3.94,4.10,4.02,4.16,3.96,4.04,4.10,3.98, 4.08,3.96,4.04,4.12,3.98,4.06,3.94,4.10,4.02,4.08, 4.12,4.04,4.18,4.24,4.08,4.14,4.06,3.96,4.04,3.92, 4.00,3.94,4.06,4.00,3.92,4.04,3.98,4.10,3.96,4.02, 3.98,4.08,3.94,4.04,3.92,4.00,3.90,3.86,3.98,4.06, 4.02,4.12,3.98,4.08,4.14,3.96,4.04,4.10,3.98,4.06, 4.14,4.00,4.08,3.94,4.04,4.12,3.96,4.06,4.00,3.92, 4.06,3.98,4.10,3.90,4.02,4.12,4.00,3.96,4.08];
const f5e_bf = [4.00,3.92,4.10,4.06,3.94,3.88,4.02,3.92,3.98,3.90, 3.96,3.86,3.92,4.06,3.94,4.12,3.96,3.86,4.00,4.08, 3.92,4.00,3.88,4.04,3.96,4.10,3.90,3.98,4.04,3.92, 4.02,3.90,3.98,4.06,3.92,4.00,3.88,4.04,3.96,4.02, 4.08,4.00,4.12,4.16,4.02,4.08,4.00,3.90,3.96,3.86, 3.92,3.86,3.94,3.90,3.84,3.94,3.88,3.98,3.86,3.92, 3.88,3.96,3.84,3.94,3.82,3.90,3.80,3.76,3.88,3.94, 3.92,4.00,3.88,3.96,4.02,3.86,3.94,3.98,3.88,3.94, 4.00,3.90,3.96,3.84,3.92,4.00,3.86,3.94,3.88,3.82, 3.94,3.86,3.98,3.80,3.90,4.00,3.88,3.70,3.96];
const f5e_brc = [3.76,3.84,3.80,3.50,3.66,3.72,3.60,3.68,3.74,3.58, 3.62,3.66,3.58,3.70,3.62,3.80,3.68,3.52,3.64,3.74, 3.60,3.70,3.54,3.76,3.66,3.82,3.62,3.70,3.78,3.64, 3.72,3.60,3.68,3.80,3.62,3.74,3.58,3.76,3.66,3.72, 3.80,3.84,3.78,3.86,3.80,3.84,3.82,3.70,3.64,3.62, 3.60,3.58,3.64,3.60,3.56,3.62,3.58,3.64,3.54,3.60, 3.56,3.62,3.52,3.60,3.50,3.58,3.48,3.46,3.56,3.62, 3.58,3.66,3.54,3.62,3.68,3.52,3.60,3.64,3.56,3.62, 3.66,3.56,3.62,3.50,3.58,3.66,3.52,3.60,3.56,3.48, 3.62,3.54,3.64,3.46,3.58,3.66,3.56,3.42,3.70];

// ---------- page texts ----------
const HEADER_LEFT = "720";
const HEADER_BOX = "\u2750";
const HEADER_RIGHT = "ISSN: 2302-9285";
const FIG4_CAP = [
  "Figure 4. The achievement of EVM in a frame by frame of coastguard, (a) Poisson, (b) Salt & pepper",
  "(d=0.005), (c) Salt & pepper (d=0.025), (d) Speckle (v=0.01), (e) Speckle (v=0.05)",
];
const FIG5_CAP = [
  "Figure 5. The achievement of EVM in a frame by frame of CONTAINER, (a) Poisson, (b) Salt & pepper",
  "(d=0.005), (c) Salt & pepper (d=0.025), (d) Speckle (v=0.01), (e) Speckle (v=0.05)",
];
const FOOTER = "Bulletin of Electr Eng & Inf, Vol. 10, No. 2, April 2020 :  716 \u2013 723";

// ---------- layout (positions / styles) ----------
type Panel = {
  box: [number, number, number, number];
  plot: [number, number, number, number];
  min: number;
  max: number;
  ticks: number[];
  data: number[][];
  label: string;
  labelPos: [number, number];
};

const PANELS: Panel[] = [
  { box: [95, 87, 148, 117], plot: [107, 100, 239, 186], min: 1.9, max: 7.5, ticks: t4a, data: [f4a_gof, f4a_rc, f4a_bf, f4a_brc], label: "(a)", labelPos: [170, 225] },
  { box: [252, 87, 149, 117], plot: [267, 99, 397, 186], min: 1.5, max: 10.5, ticks: t4b, data: [f4b_gof, f4b_rc, f4b_bf, f4b_brc], label: "(b)", labelPos: [326, 225] },
  { box: [405, 87, 149, 117], plot: [420, 99, 551, 186], min: 1.5, max: 10.5, ticks: t4b, data: [f4c_gof, f4c_rc, f4c_bf, f4c_brc], label: "(c)", labelPos: [481, 225] },
  { box: [133, 243, 149, 116], plot: [146, 253, 278, 342], min: 1.7, max: 7.5, ticks: t4d, data: [f4d_gof, f4d_rc, f4d_bf, f4d_brc], label: "(d)", labelPos: [207, 380] },
  { box: [368, 242, 151, 117], plot: [382, 259, 516, 341], min: 1.7, max: 7.3, ticks: t4d, data: [f4e_gof, f4e_rc, f4e_bf, f4e_brc], label: "(e)", labelPos: [444, 380] },
  { box: [95, 447, 148, 119], plot: [109, 463, 238, 548], min: 3.2, max: 4.6, ticks: t5a, data: [f5a_gof, f5a_rc, f5a_bf, f5a_brc], label: "(a)", labelPos: [170, 589] },
  { box: [252, 447, 152, 119], plot: [269, 457, 401, 547], min: 3.2, max: 7.7, ticks: t5b, data: [f5b_gof, f5b_rc, f5b_bf, f5b_brc], label: "(b)", labelPos: [326, 589] },
  { box: [406, 447, 149, 119], plot: [423, 458, 551, 547], min: 5.5, max: 15.9, ticks: t5c, data: [f5c_gof, f5c_rc, f5c_bf, f5c_brc], label: "(c)", labelPos: [481, 589] },
  { box: [133, 602, 148, 119], plot: [146, 618, 277, 703], min: 3.2, max: 4.8, ticks: t5d, data: [f5d_gof, f5d_rc, f5d_bf, f5d_brc], label: "(d)", labelPos: [207, 745] },
  { box: [371, 602, 148, 119], plot: [384, 616, 514, 703], min: 3.3, max: 5.1, ticks: t5e, data: [f5e_gof, f5e_rc, f5e_bf, f5e_brc], label: "(e)", labelPos: [444, 745] },
];

const PLUS = "path://M2,0H4V2H6V4H4V6H2V4H0V2H2Z";
const SERIES_STYLE = [
  { line: "#8c8c8c", mark: "#707070", symbol: PLUS, size: 2.3, z: 2, w: 0.6 },
  { line: "#3aae78", mark: "#3aae78", symbol: "none", size: 0, z: 3, w: 0.8 },
  { line: "#6b93c8", mark: "#5a84bd", symbol: PLUS, size: 1.8, z: 4, w: 0.55 },
  { line: "#e03434", mark: "#b01414", symbol: "circle", size: 2.0, z: 5, w: 0.7 },
];

const SANS = "'Liberation Sans', Arial, sans-serif";
const SERIF = "'Liberation Serif', 'Times New Roman', serif";

function buildOption() {
  const grid: any[] = [];
  const xAxis: any[] = [];
  const yAxis: any[] = [];
  const series: any[] = [];
  const legend: any[] = [];
  const graphic: any[] = [];

  PANELS.forEach((p, i) => {
    const [bx, by, bw, bh] = p.box;
    const [L, T, R, B] = p.plot;
    grid.push({ left: L, top: T, width: R - L, height: B - T });
    xAxis.push({
      type: "category",
      gridIndex: i,
      data: FRAMES,
      boundaryGap: true,
      axisLine: { lineStyle: { color: "#bfbfbf", width: 0.6 } },
      axisTick: { show: false },
      axisLabel: { interval: 4, fontSize: 5, color: "#595959", margin: 3, fontFamily: SANS },
      splitLine: { show: false },
    });
    yAxis.push({
      type: "value",
      gridIndex: i,
      min: p.min,
      max: p.max,
      axisLine: { show: false },
      axisTick: { show: false, customValues: p.ticks },
      axisLabel: { customValues: p.ticks, fontSize: 5, color: "#595959", margin: 2.5, fontFamily: SANS },
      splitLine: { show: true, lineStyle: { color: "#d9d9d9", width: 0.5 } },
    });
    p.data.forEach((vals, k) => {
      const st = SERIES_STYLE[k];
      series.push({
        type: "line",
        name: SERIES_NAMES[k],
        xAxisIndex: i,
        yAxisIndex: i,
        data: vals,
        symbol: st.symbol,
        symbolSize: st.size,
        showSymbol: st.symbol !== "none",
        showAllSymbol: true,
        lineStyle: { color: st.line, width: st.w },
        itemStyle: { color: st.mark },
        z: st.z,
        silent: true,
        animation: false,
      });
    });
    legend.push({
      left: bx + 27,
      top: by + 4,
      padding: 0,
      itemWidth: 9,
      itemHeight: 4,
      itemGap: 9,
      selectedMode: false,
      textStyle: { fontSize: 5.5, color: "#404040", fontFamily: SANS, padding: [0, 0, 0, -3] },
      data: SERIES_NAMES,
    });
    graphic.push({
      type: "rect",
      shape: { x: bx, y: by, width: bw, height: bh },
      style: { fill: "none", stroke: "#8eaad2", lineWidth: 1.2 },
      silent: true,
    });
    graphic.push({
      type: "text",
      x: bx + 5,
      y: by + 6.5,
      style: { text: "EVM", fontSize: 5.5, fill: "#404040", verticalAlign: "middle", fontFamily: SANS },
      silent: true,
    });
    graphic.push({
      type: "text",
      x: R,
      y: B + 13,
      style: { text: "Frame No.", fontSize: 5.5, fill: "#404040", align: "right", verticalAlign: "middle", fontFamily: SANS },
      silent: true,
    });
    graphic.push({
      type: "text",
      x: p.labelPos[0],
      y: p.labelPos[1],
      style: { text: p.label, fontSize: 10, fill: "#111", align: "center", verticalAlign: "middle", fontFamily: SERIF },
      silent: true,
    });
  });

  const serifText = (text: string, x: number, y: number, align: string, size = 10) => ({
    type: "text",
    x,
    y,
    style: { text, fontSize: size, fill: "#111", align, verticalAlign: "middle", fontFamily: SERIF },
    silent: true,
  });

  graphic.push(serifText(HEADER_LEFT, 92, 63, "left", 11));
  graphic.push({
    type: "text",
    x: 128,
    y: 63,
    style: { text: HEADER_BOX, fontSize: 10, fill: "#111", align: "left", verticalAlign: "middle", fontFamily: "'DejaVu Sans', sans-serif" },
    silent: true,
  });
  graphic.push(serifText(HEADER_RIGHT, 546, 63, "right", 11));
  graphic.push({ type: "line", shape: { x1: 92, y1: 76, x2: 546, y2: 76 }, style: { stroke: "#444", lineWidth: 1.5 }, silent: true });
  graphic.push(serifText(FIG4_CAP[0], 325, 412, "center", 10.6));
  graphic.push(serifText(FIG4_CAP[1], 325, 428, "center", 10.6));
  graphic.push(serifText(FIG5_CAP[0], 326, 776, "center", 10.6));
  graphic.push(serifText(FIG5_CAP[1], 326, 792, "center", 10.6));
  graphic.push({ type: "line", shape: { x1: 89, y1: 852, x2: 561, y2: 852 }, style: { stroke: "#333", lineWidth: 1 }, silent: true });
  graphic.push(serifText(FOOTER, 91, 862, "left", 10.3));

  return {
    animation: false,
    backgroundColor: "#ffffff",
    grid,
    xAxis,
    yAxis,
    series,
    legend,
    graphic,
  };
}

export default function App() {
  const ref = useRef<HTMLDivElement>(null);
  useEffect(() => {
    if (!ref.current) return;
    const chart = echarts.init(ref.current, null, { renderer: "svg", width: 638, height: 902 });
    chart.setOption(buildOption() as any);
    return () => chart.dispose();
  }, []);
  return (
    <div
      ref={ref}
      style={{ position: "absolute", left: 0, top: 0, width: 638, height: 902, background: "#ffffff" }}
    />
  );
}
